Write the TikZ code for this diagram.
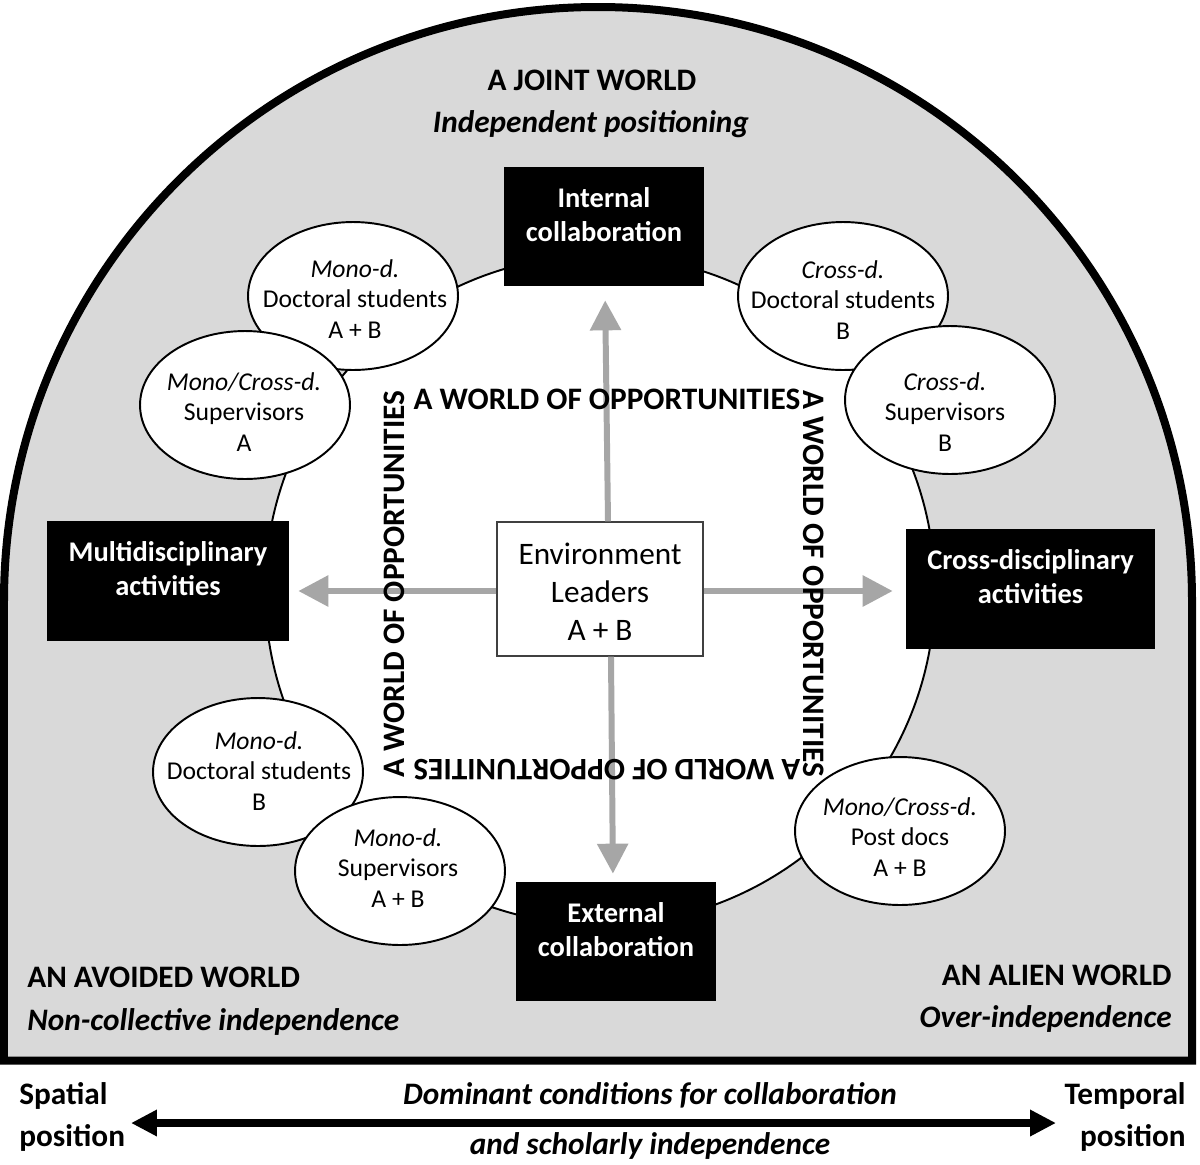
\documentclass[tikz,border=0pt]{standalone}
\usepackage{fontspec}
\setmainfont{Carlito}
\usetikzlibrary{shapes.geometric,arrows.meta}
\definecolor{bggray}{HTML}{D9D9D9}
\definecolor{arrgray}{HTML}{A6A6A6}
\begin{document}
\begin{tikzpicture}[x=0.02cm,y=-0.02cm,
  ell/.style={ellipse, draw=black, line width=1.1pt, fill=white, minimum width=4.2cm, minimum height=2.96cm, inner sep=0pt},
  etext/.style={align=center, font=\fontsize{14.6}{17.4}\selectfont, inner sep=0pt},
  bbox/.style={fill=black, draw=none, inner sep=0pt},
  btext/.style={align=center, text=white, font=\fontsize{16.2}{19.3}\selectfont\bfseries, inner sep=0pt},
  woo/.style={font=\fontsize{17.8}{20}\selectfont\bfseries, inner sep=0pt},
  ttl/.style={font=\fontsize{17.8}{21}\selectfont\bfseries, inner sep=0pt},
  ttli/.style={font=\fontsize{17.8}{21}\selectfont\bfseries\itshape, inner sep=0pt},
  garrow/.style={draw=arrgray, line width=3.4pt, -{Triangle[length=0.6cm,width=0.6cm,fill=arrgray]}},
  barrow/.style={draw=black, line width=5pt, {Triangle[length=0.52cm,width=0.5cm]}-{Triangle[length=0.52cm,width=0.5cm]}}
]
\useasboundingbox (0,0) rectangle (1200,1164);
% outer arch
\draw[fill=bggray, line width=0.16cm] (4,1060.5) -- (4,601) arc[start angle=180, end angle=360, radius=594] -- (1192,1060.5) -- cycle;
% inner circle
\node[circle, draw=black, line width=1.1pt, fill=white, minimum size=13.4cm, inner sep=0pt] (circ) at (600,590) {};
% environment box
\node[draw=black!75, line width=0.8pt, fill=white, minimum width=4.12cm, minimum height=2.68cm, inner sep=0pt] (env) at (600,589) {};
\node[align=center, inner sep=0pt, font=\fontsize{17.8}{21.6}\selectfont] (envt) at (600,591.5) {Environment\\Leaders\\A + B};
% black boxes
\node[bbox, minimum width=4.0cm, minimum height=2.38cm] (int) at (604,226.5) {};
\node[bbox, minimum width=4.84cm, minimum height=2.4cm] (multi) at (168,581) {};
\node[bbox, minimum width=4.98cm, minimum height=2.4cm] (cross) at (1030.5,589) {};
\node[bbox, minimum width=4.0cm, minimum height=2.38cm] (ext) at (616,941.5) {};
% arrows
\draw[garrow, shorten >=0.28cm] ([xshift=0.16cm]env.north) -- ([xshift=0.02cm]int.south);
\draw[garrow, shorten >=0.16cm] ([xshift=0.22cm]env.south) -- ([xshift=-0.06cm]ext.north);
\draw[garrow, shorten >=0.18cm] ([yshift=-0.04cm]env.west) -- ([yshift=-0.04cm]env.west -| multi.east);
\draw[garrow, shorten >=0.26cm] ([yshift=-0.04cm]env.east) -- ([yshift=-0.04cm]env.east -| cross.west);
% world of opportunities
\node[woo] (wtop) at (607,399) {A WORLD OF OPPORTUNITIES};
\node[woo, rotate=90] (wleft) at (394,584) {A WORLD OF OPPORTUNITIES};
\node[woo, rotate=-90] (wright) at (814,584) {A WORLD OF OPPORTUNITIES};
\node[woo, rotate=180] (wbot) at (607,770) {A WORLD OF OPPORTUNITIES};
% ellipses
\node[ell] (e1) at (353,296) {};
\node[etext] (t1) at (355,299) {\textit{Mono-d.}\\Doctoral students\\A + B};
\node[ell] (e2) at (245,405) {};
\node[etext] (t2) at (244,412) {\textit{Mono/Cross-d.}\\Supervisors\\A};
\node[ell] (e3) at (843,296) {};
\node[etext] (t3) at (843,300) {\textit{Cross-d.}\\Doctoral students\\B};
\node[ell] (e4) at (950,400) {};
\node[etext] (t4) at (945,412) {\textit{Cross-d.}\\Supervisors\\B};
\node[ell] (e5) at (258,772) {};
\node[etext] (t5) at (259,771) {\textit{Mono-d.}\\Doctoral students\\B};
\node[ell] (e6) at (400,871) {};
\node[etext] (t6) at (398,868) {\textit{Mono-d.}\\Supervisors\\A + B};
\node[ell] (e7) at (900,831) {};
\node[etext] (t7) at (900,837) {\textit{Mono/Cross-d.}\\Post docs\\A + B};
% black box texts
\node[btext] (intt) at ([yshift=0.24cm]int.center) {Internal\\collaboration};
\node[btext] (multit) at ([yshift=0.24cm]multi.center) {Multidisciplinary\\activities};
\node[btext] (crosst) at ([yshift=0.25cm]cross.center) {Cross-disciplinary\\activities};
\node[btext] (extt) at ([yshift=0.24cm]ext.center) {External\\collaboration};
% titles
\node[ttl] (joint) at (592,80) {A JOINT WORLD};
\node[ttli] (jointi) at (591,124) {Independent positioning};
\node[ttl, anchor=west] (avoid) at (27,977) {AN AVOIDED WORLD};
\node[ttli, anchor=west] (avoidi) at (27,1022) {Non-collective independence};
\node[ttl, anchor=east] (alien) at (1172,975) {AN ALIEN WORLD};
\node[ttli, anchor=east] (alieni) at (1172,1019) {Over-independence};
% bottom axis
\node[ttl, align=left, anchor=west, font=\fontsize{17.8}{24}\selectfont\bfseries] (spat) at (19,1117) {Spatial\\position};
\node[ttl, align=right, anchor=east, font=\fontsize{17.8}{24}\selectfont\bfseries] (temp) at (1186,1117) {Temporal\\position};
\node[ttli] (dom1) at (650,1095) {Dominant conditions for collaboration};
\node[ttli] (dom2) at (650,1146) {and scholarly independence};
\coordinate (bl) at (131,1123);
\coordinate (br) at (1056,1123);
\draw[barrow] (bl) -- (br);
\end{tikzpicture}
\end{document}
